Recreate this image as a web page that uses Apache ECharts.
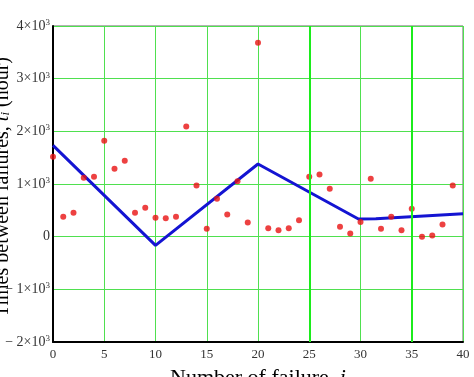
<!DOCTYPE html>
<html>
<head>
<meta charset="utf-8">
<script src="https://cdn.jsdelivr.net/npm/echarts@6/dist/echarts.min.js"></script>
<style>html,body{margin:0;padding:0;background:#fff}#c{width:474px;height:377px}</style>
</head>
<body>
<div id="c"></div>
<script>
// Number of failure i
const failureIndex = [0,1,2,3,4,5,6,7,8,9,10,11,12,13,14,15,16,17,18,19,20,21,22,23,24,25,26,27,28,29,30,31,32,33,34,35,36,37,38,39];
// Times between failures t_i (hour)
const failureTimes = [1518,380,455,1120,1140,1820,1290,1440,455,550,360,350,380,2090,970,150,720,420,1050,270,3680,160,120,160,310,1140,1180,910,190,60,280,1100,150,380,120,530,0,20,230,970];
// Fitted trend line (x, y)
const trendX = [0,10,20,29.8,31.5,40];
const trendY = [1733,-165,1380,335,340,436];
const xTicks = {min:0, max:40, interval:5};
const yTicks = {min:-2000, max:4000, interval:1000};
const thickGridX = [25,35];

const chart = echarts.init(document.getElementById('c'));
const serif = '"Liberation Serif","Times New Roman",serif';
chart.setOption({
  animation:false,
  grid:{left:53,right:11,top:26,bottom:35,containLabel:false,outerBoundsMode:'none',show:true,borderColor:'#666',borderWidth:1},
  xAxis:{
    type:'value', min:xTicks.min, max:xTicks.max, interval:xTicks.interval,
    axisLine:{show:true,onZero:false,lineStyle:{color:'#000',width:2}},
    axisTick:{show:false},
    axisLabel:{color:'#333',fontFamily:serif,fontSize:13,margin:6},
    splitLine:{show:true,lineStyle:{color:'#4fe04f',width:1}},
    name:'{n|Number of failure, }{i|i}',
    nameLocation:'middle', nameGap:25, nameMoveOverlap:false,
    nameTextStyle:{verticalAlign:'top',rich:{n:{fontFamily:serif,fontSize:22,color:'#000'},i:{fontFamily:serif,fontSize:22,fontStyle:'italic',color:'#000'}}}
  },
  yAxis:{
    type:'value', min:yTicks.min, max:yTicks.max, interval:yTicks.interval,
    axisLine:{show:true,onZero:false,lineStyle:{color:'#000',width:2}},
    axisTick:{show:false},
    axisLabel:{
      margin:3,
      formatter:function(v){
        if(v===0) return '{n|0}';
        const k=Math.abs(v)/1000;
        return '{n|'+(v<0?'\u2212 ':'')+k+'\u00d710}{s|3}';
      },
      rich:{
        n:{fontFamily:serif,fontSize:14,color:'#333'},
        s:{fontFamily:serif,fontSize:9,color:'#333',verticalAlign:'top',padding:[0,0,7,0]}
      }
    },
    splitLine:{show:true,lineStyle:{color:'#4fe04f',width:1}},
    name:'{n|Times between failures, }{i|t}{sub|i}{n| (hour)}',
    nameLocation:'middle', nameGap:40, nameMoveOverlap:false,
    nameTextStyle:{padding:[0,6,0,0],rich:{
      n:{fontFamily:serif,fontSize:20,color:'#000'},
      i:{fontFamily:serif,fontSize:20,fontStyle:'italic',color:'#000'},
      sub:{fontFamily:serif,fontSize:13,fontStyle:'italic',color:'#000',padding:[6,0,0,0]}
    }}
  },
  series:[
    {
      type:'line', data:trendX.map((x,i)=>[x,trendY[i]]), symbol:'none',
      lineStyle:{color:'#1414d2',width:3}, z:3,
      markLine:{silent:true,symbol:'none',label:{show:false},
        lineStyle:{color:'#1cec1c',width:2,type:'solid'},
        data:thickGridX.map(x=>({xAxis:x}))}
    },
    {
      type:'scatter', data:failureIndex.map((x,i)=>[x,failureTimes[i]]),
      symbol:'circle', symbolSize:6, itemStyle:{color:'#e81212'}, z:4
    }
  ]
});
</script>
</body>
</html>
